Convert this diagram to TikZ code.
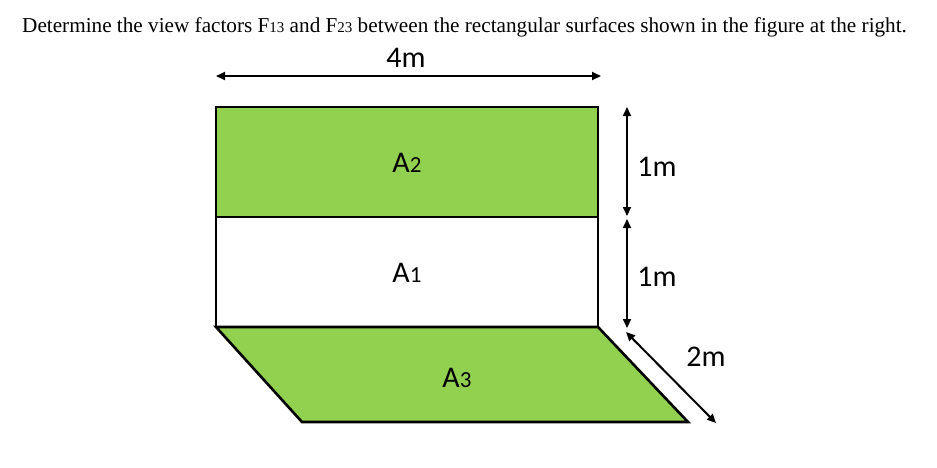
\documentclass[tikz,border=0pt]{standalone}
\usepackage{fontspec}
\setmainfont{Liberation Serif}
\newfontfamily\carl{Carlito}
\usetikzlibrary{arrows.meta}
\definecolor{gr}{HTML}{92D050}
\begin{document}
\begin{tikzpicture}[x=1pt,y=-1pt,
 surf/.style={draw=black,line width=2.6pt},
 dim/.style={line width=2pt,{Triangle[length=9pt,width=8pt]}-{Triangle[length=9pt,width=8pt]}},
 lab/.style={font=\carl\fontsize{30}{32}\selectfont}]
\useasboundingbox (0,0) rectangle (937,467);
\node[anchor=west,inner sep=0pt,font=\fontsize{21.2}{24}\selectfont] (t) at (22,27) {Determine the view factors F{\fontsize{15}{16}\selectfont 13} and F{\fontsize{15}{16}\selectfont 23} between the rectangular surfaces shown in the figure at the right.};
\draw[surf,fill=gr] (216,107) rectangle (598,217);
\draw[surf,fill=white] (216,217) rectangle (598,327);
\draw[surf,fill=gr] (216,327) -- (598,327) -- (688,422) -- (302,422) -- cycle;
\node[lab] (a2) at (407,163) {A{\fontsize{23}{24}\selectfont 2}};
\node[lab] (a1) at (407,273) {A{\fontsize{23}{24}\selectfont 1}};
\node[lab] (a3) at (457,378) {A{\fontsize{23}{24}\selectfont 3}};
\coordinate (w1) at (216,76); \coordinate (w2) at (601,76);
\draw[dim] (w1) -- (w2);
\node[lab] (l4) at (406,58) {4m};
\coordinate (v1) at (627,107); \coordinate (v2) at (627,216);
\coordinate (v3) at (627,219); \coordinate (v4) at (627,328);
\draw[dim] (v1) -- (v2);
\draw[dim] (v3) -- (v4);
\node[lab] (l1a) at (657,167) {1m};
\node[lab] (l1b) at (657,277) {1m};
\coordinate (d1) at (626,332); \coordinate (d2) at (716,423);
\draw[dim] (d1) -- (d2);
\node[lab] (l2) at (706,357) {2m};
\end{tikzpicture}
\end{document}
